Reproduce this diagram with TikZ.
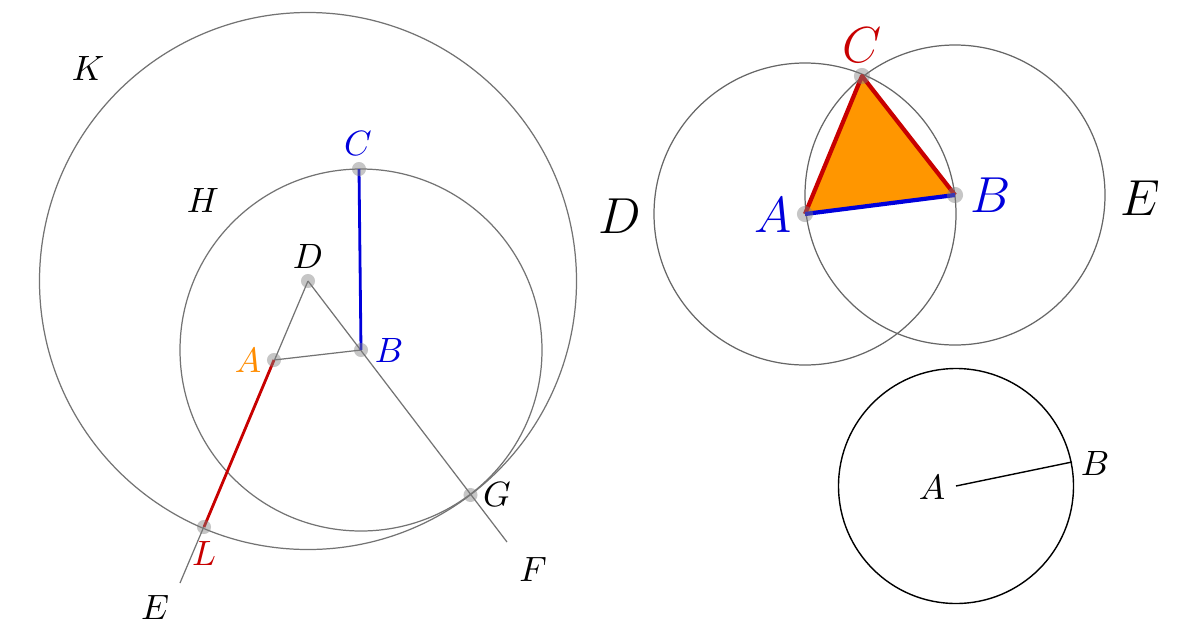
\documentclass[tikz,border=0pt]{standalone}
\usetikzlibrary{calc}
\definecolor{dred}{RGB}{200,0,0}
\definecolor{lblue}{RGB}{0,0,220}
\definecolor{dorange}{RGB}{255,140,0}
\definecolor{forange}{RGB}{255,150,0}
\begin{document}
\begin{tikzpicture}[x=0.01cm,y=-0.01cm,
  thinline/.style={draw=black!55,line width=0.35pt},
  dotmark/.style={fill=black!50,opacity=0.45},
  lbl/.style={inner sep=1pt,font=\normalsize},
  biglbl/.style={inner sep=1pt,font=\fontsize{14}{16}\selectfont}]
\useasboundingbox (0,0) rectangle (1200,630);
% ---------- left figure ----------
\coordinate (A) at (274,360);
\coordinate (B) at (361,350);
\coordinate (D) at (308,281);
\coordinate (C) at (359,169);
\coordinate (G) at (470.5,495);
\coordinate (L) at (204,527);
\coordinate (Eend) at (180,583);
\coordinate (Fend) at (507,542);
\draw[thinline] (B) circle (181);
\draw[thinline] (D) circle (268.5);
\draw[thinline] (D) -- (Eend);
\draw[thinline] (D) -- (Fend);
\draw[thinline] (A) -- (B);
\draw[lblue,line width=0.8pt] (B) -- (C);
\draw[dred,line width=0.8pt] (A) -- (L);
\foreach \p in {A,B,C,D,G,L} \fill[dotmark] (\p) circle (2pt);
\node[lbl] (lK) at (88,68) {$K$};
\node[lbl] (lH) at (203,200) {$H$};
\node[lbl] (lD) at (308,256) {$D$};
\node[lbl,text=lblue] (lC) at (358,143) {$C$};
\node[lbl,text=dorange] (lA) at (248,360) {$A$};
\node[lbl,text=lblue] (lB) at (389,350) {$B$};
\node[lbl] (lG) at (497,494) {$G$};
\node[lbl,text=dred] (lL) at (204,553) {$L$};
\node[lbl] (lE) at (155,607) {$E$};
\node[lbl] (lF) at (533,569) {$F$};
% ---------- right figure ----------
\coordinate (RA) at (805,214);
\coordinate (RB) at (955,195);
\coordinate (RC) at (862,76);
\draw[thinline,draw=black!60] (RA) circle (151);
\draw[thinline,draw=black!60] (RB) circle (150);
\fill[forange] (RA) -- (RB) -- (RC) -- cycle;
\draw[dred,line width=1.2pt,line join=round] (RA) -- (RC) -- (RB);
\draw[lblue,line width=1.2pt] (RA) -- (RB);
\foreach \p in {RA,RB,RC} \fill[dotmark] (\p) circle (2.3pt);
\node[biglbl] (rD) at (620,216) {$D$};
\node[biglbl] (rE) at (1140,198) {$E$};
\node[biglbl,text=lblue] (rA) at (773,215) {$A$};
\node[biglbl,text=lblue] (rB) at (991,195) {$B$};
\node[biglbl,text=dred] (rC) at (862,45) {$C$};
% ---------- bottom right ----------
\coordinate (SA) at (956,486);
\coordinate (SB) at (1072,462);
\draw[line width=0.4pt] (SA) circle (117.5);
\draw[line width=0.4pt] (SA) -- (SB);
\node[lbl] (sA) at (932,487) {$A$};
\node[lbl] (sB) at (1095,463) {$B$};
\end{tikzpicture}
\end{document}
